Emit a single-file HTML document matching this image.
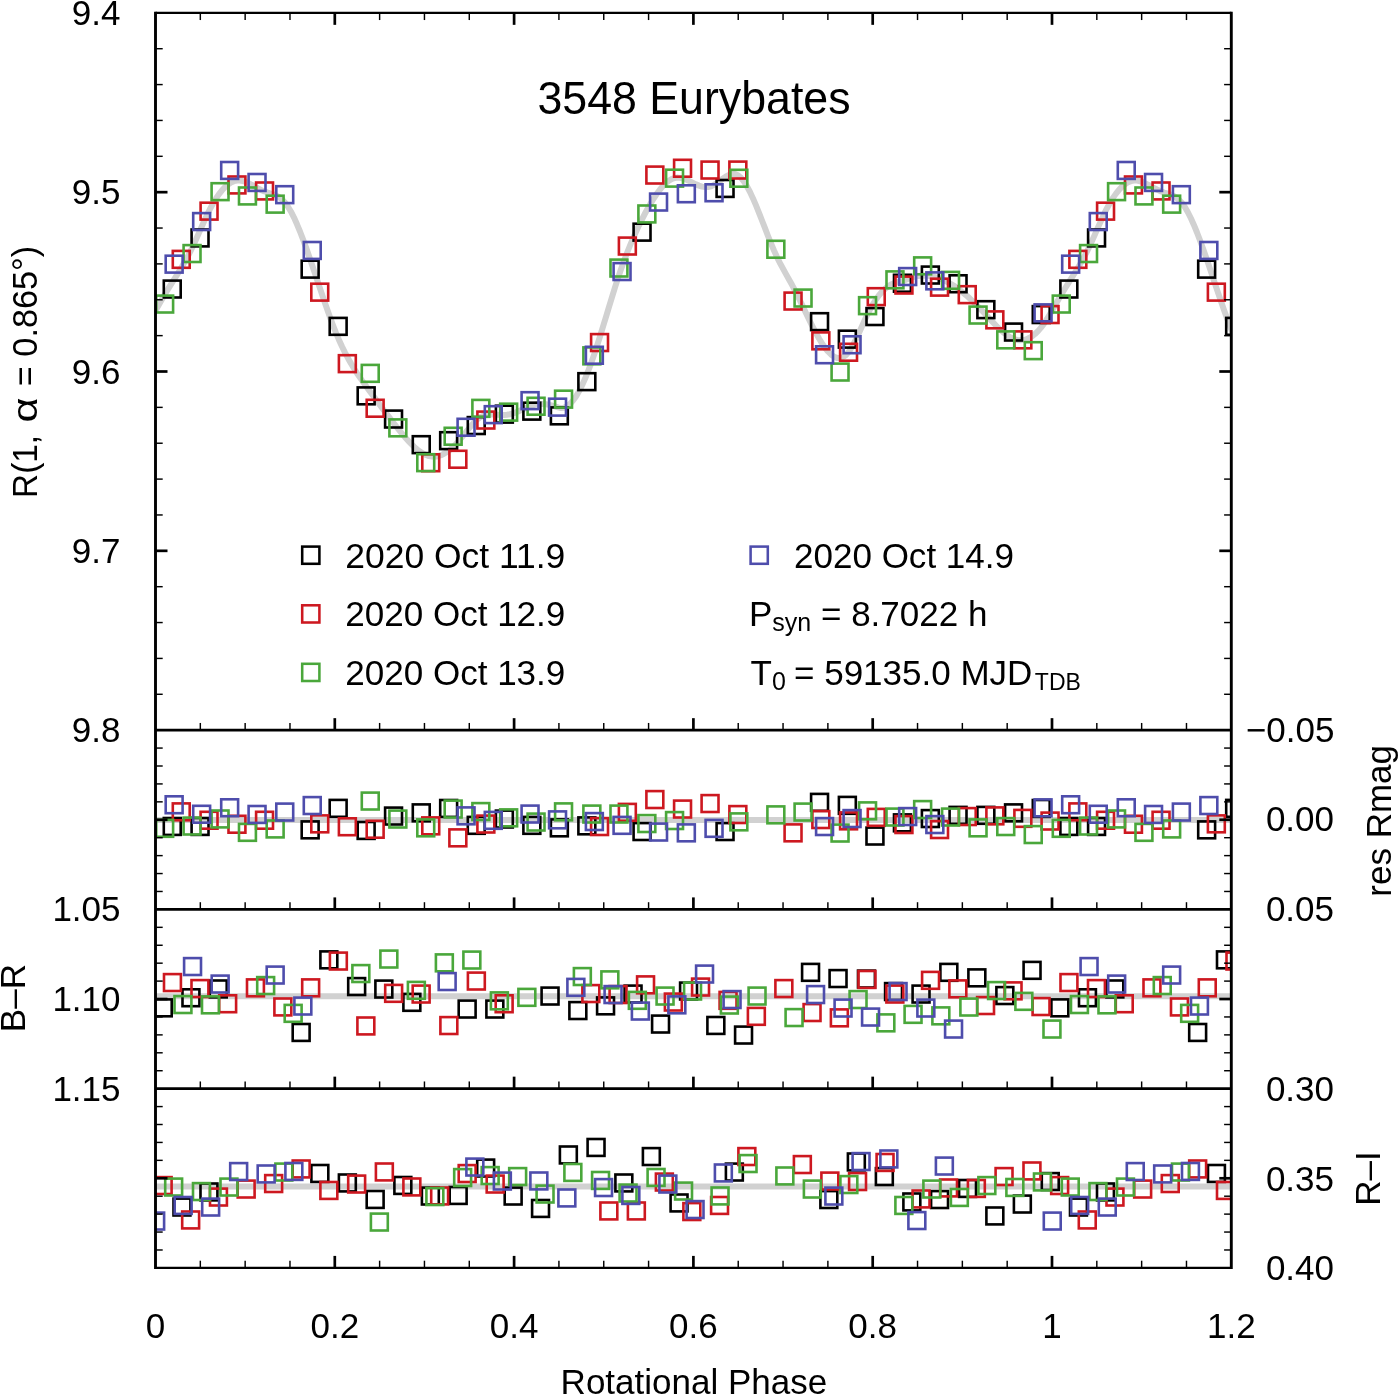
<!DOCTYPE html>
<html lang="en"><head><meta charset="utf-8"><title>3548 Eurybates</title>
<style>html,body{margin:0;padding:0;background:#fff}svg{display:block}text{font-family:"Liberation Sans",sans-serif;fill:#000}</style>
</head><body>
<svg width="1400" height="1394" viewBox="0 0 1400 1394">
<rect width="1400" height="1394" fill="#fff"/>
<defs><clipPath id="cp"><rect x="155.5" y="12.85" width="1075.80" height="1255.05"/></clipPath></defs>
<g clip-path="url(#cp)">
<g fill="none" stroke="#d1d1d1" stroke-width="6">
<path d="M150.0 319.7 L153.0 314.8 L156.0 309.7 L159.0 304.4 L162.0 299.2 L165.0 294.1 L168.0 289.1 L171.0 284.3 L174.0 279.6 L177.0 274.8 L180.0 269.9 L183.0 264.9 L186.0 259.7 L189.0 254.1 L192.0 248.1 L195.0 241.7 L198.0 235.1 L201.0 228.3 L204.0 221.5 L207.0 215.1 L210.0 209.0 L213.0 203.5 L216.0 198.5 L219.0 194.1 L222.0 190.3 L225.0 187.1 L228.0 184.5 L231.0 182.5 L234.0 181.2 L237.0 180.5 L240.0 180.5 L243.0 181.1 L246.0 182.0 L249.0 183.4 L252.0 184.9 L255.0 186.6 L258.0 188.3 L261.0 189.9 L264.0 191.2 L267.0 192.3 L270.0 193.3 L273.0 194.2 L276.0 195.4 L279.0 197.1 L282.0 199.4 L285.0 202.5 L288.0 206.7 L291.0 211.7 L294.0 217.6 L297.0 224.3 L300.0 231.5 L303.0 239.3 L306.0 247.4 L309.0 256.0 L312.0 264.7 L315.0 273.6 L318.0 282.5 L321.0 291.4 L324.0 300.2 L327.0 308.8 L330.0 317.2 L333.0 325.2 L336.0 332.8 L339.0 339.9 L342.0 346.5 L345.0 352.6 L348.0 358.2 L351.0 363.5 L354.0 368.5 L357.0 373.2 L360.0 377.6 L363.0 381.9 L366.0 386.1 L369.0 390.2 L372.0 394.2 L375.0 398.3 L378.0 402.4 L381.0 406.4 L384.0 410.5 L387.0 414.4 L390.0 418.4 L393.0 422.3 L396.0 426.1 L399.0 429.9 L402.0 433.6 L405.0 437.2 L408.0 440.6 L411.0 443.7 L414.0 446.7 L417.0 449.3 L420.0 451.6 L423.0 453.5 L426.0 455.0 L429.0 456.1 L432.0 456.6 L435.0 456.7 L438.0 456.2 L441.0 455.2 L444.0 453.8 L447.0 452.0 L450.0 449.8 L453.0 447.1 L456.0 444.1 L459.0 440.7 L462.0 437.1 L465.0 433.3 L468.0 429.6 L471.0 425.9 L474.0 422.6 L477.0 419.7 L480.0 417.4 L483.0 415.8 L486.0 414.8 L489.0 414.4 L492.0 414.3 L495.0 414.5 L498.0 414.8 L501.0 415.0 L504.0 415.1 L507.0 414.8 L510.0 414.2 L513.0 413.3 L516.0 412.3 L519.0 411.1 L522.0 409.8 L525.0 408.4 L528.0 407.1 L531.0 405.9 L534.0 404.9 L537.0 404.2 L540.0 404.0 L543.0 404.0 L546.0 404.3 L549.0 404.8 L552.0 405.5 L555.0 406.4 L558.0 407.4 L561.0 408.1 L564.0 407.7 L567.0 406.3 L570.0 403.9 L573.0 400.6 L576.0 396.4 L579.0 391.3 L582.0 385.4 L585.0 378.8 L588.0 371.5 L591.0 363.6 L594.0 355.0 L597.0 345.9 L600.0 336.5 L603.0 326.7 L606.0 316.8 L609.0 306.9 L612.0 297.1 L615.0 287.4 L618.0 278.1 L621.0 269.3 L624.0 260.9 L627.0 253.0 L630.0 245.5 L633.0 238.4 L636.0 231.7 L639.0 225.3 L642.0 219.3 L645.0 213.5 L648.0 208.0 L651.0 202.8 L654.0 198.0 L657.0 193.5 L660.0 189.5 L663.0 185.9 L666.0 182.9 L669.0 180.6 L672.0 178.9 L675.0 177.9 L678.0 177.6 L681.0 178.0 L684.0 178.8 L687.0 180.0 L690.0 181.4 L693.0 182.9 L696.0 184.4 L699.0 185.6 L702.0 186.6 L705.0 187.1 L708.0 187.1 L711.0 186.4 L714.0 184.9 L717.0 183.0 L720.0 180.8 L723.0 178.5 L726.0 176.5 L729.0 175.0 L732.0 174.1 L735.0 174.1 L738.0 175.3 L741.0 177.8 L744.0 181.6 L747.0 186.3 L750.0 192.0 L753.0 198.4 L756.0 205.4 L759.0 212.8 L762.0 220.5 L765.0 228.2 L768.0 236.0 L771.0 243.4 L774.0 250.5 L777.0 257.1 L780.0 263.1 L783.0 268.7 L786.0 274.1 L789.0 279.4 L792.0 284.8 L795.0 290.5 L798.0 296.5 L801.0 302.6 L804.0 308.9 L807.0 315.2 L810.0 321.4 L813.0 327.4 L816.0 333.1 L819.0 338.5 L822.0 343.4 L825.0 347.8 L828.0 351.5 L831.0 354.5 L834.0 356.7 L837.0 357.9 L840.0 358.1 L843.0 357.2 L846.0 355.0 L849.0 351.5 L852.0 346.9 L855.0 341.2 L858.0 335.0 L861.0 328.4 L864.0 321.7 L867.0 315.3 L870.0 309.4 L873.0 304.1 L876.0 299.4 L879.0 295.3 L882.0 291.8 L885.0 288.8 L888.0 286.4 L891.0 284.5 L894.0 283.1 L897.0 282.2 L900.0 281.6 L903.0 280.9 L906.0 279.7 L909.0 278.5 L912.0 277.4 L915.0 276.6 L918.0 276.0 L921.0 275.7 L924.0 275.6 L927.0 275.7 L930.0 276.0 L933.0 276.5 L936.0 277.3 L939.0 278.2 L942.0 279.4 L945.0 280.7 L948.0 282.2 L951.0 284.0 L954.0 285.8 L957.0 287.9 L960.0 290.2 L963.0 292.6 L966.0 295.1 L969.0 297.8 L972.0 300.6 L975.0 303.5 L978.0 306.5 L981.0 309.6 L984.0 312.7 L987.0 316.0 L990.0 319.2 L993.0 322.4 L996.0 325.5 L999.0 328.5 L1002.0 331.2 L1005.0 333.7 L1008.0 335.9 L1011.0 337.7 L1014.0 339.0 L1017.0 339.9 L1020.0 340.2 L1023.0 340.1 L1026.0 339.4 L1029.0 338.1 L1032.0 336.4 L1035.0 334.0 L1038.0 331.1 L1041.0 327.6 L1044.0 323.6 L1047.0 319.0 L1050.0 314.1 L1053.0 309.0 L1056.0 303.7 L1059.0 298.5 L1062.0 293.4 L1065.0 288.5 L1068.0 283.7 L1071.0 278.9 L1074.0 274.2 L1077.0 269.3 L1080.0 264.2 L1083.0 258.9 L1086.0 253.3 L1089.0 247.3 L1092.0 240.9 L1095.0 234.2 L1098.0 227.4 L1101.0 220.7 L1104.0 214.2 L1107.0 208.2 L1110.0 202.8 L1113.0 197.9 L1116.0 193.6 L1119.0 189.8 L1122.0 186.7 L1125.0 184.2 L1128.0 182.3 L1131.0 181.1 L1134.0 180.5 L1137.0 180.6 L1140.0 181.2 L1143.0 182.2 L1146.0 183.6 L1149.0 185.1 L1152.0 186.8 L1155.0 188.5 L1158.0 190.1 L1161.0 191.4 L1164.0 192.5 L1167.0 193.4 L1170.0 194.4 L1173.0 195.6 L1176.0 197.4 L1179.0 199.8 L1182.0 203.0 L1185.0 207.3 L1188.0 212.5 L1191.0 218.5 L1194.0 225.2 L1197.0 232.5 L1200.0 240.3 L1203.0 248.6 L1206.0 257.1 L1209.0 265.9 L1212.0 274.7 L1215.0 283.7 L1218.0 292.6 L1221.0 301.3 L1224.0 309.9 L1227.0 318.2 L1230.0 326.2 L1233.0 333.8 L1236.0 340.8 L1239.0 347.3" stroke-linejoin="round"/>
<line x1="150" x2="1240" y1="820.0" y2="820.0"/>
<line x1="150" x2="1240" y1="996.3" y2="996.3"/>
<line x1="150" x2="1240" y1="1186.5" y2="1186.5"/>
</g>
<g fill="none" stroke-width="2.6">
<g stroke="#000000">
<rect x="163.8" y="280.6" width="16.9" height="16.9"/>
<rect x="191.6" y="229.5" width="16.9" height="16.9"/>
<rect x="301.7" y="260.7" width="16.9" height="16.9"/>
<rect x="329.7" y="317.9" width="16.9" height="16.9"/>
<rect x="357.7" y="387.4" width="16.9" height="16.9"/>
<rect x="385.1" y="410.6" width="16.9" height="16.9"/>
<rect x="412.8" y="436.2" width="16.9" height="16.9"/>
<rect x="440.2" y="432.2" width="16.9" height="16.9"/>
<rect x="467.8" y="417.1" width="16.9" height="16.9"/>
<rect x="495.9" y="405.7" width="16.9" height="16.9"/>
<rect x="523.4" y="402.7" width="16.9" height="16.9"/>
<rect x="550.9" y="407.4" width="16.9" height="16.9"/>
<rect x="578.4" y="373.2" width="16.9" height="16.9"/>
<rect x="633.6" y="223.7" width="16.9" height="16.9"/>
<rect x="716.6" y="180.0" width="16.9" height="16.9"/>
<rect x="811.1" y="313.2" width="16.9" height="16.9"/>
<rect x="838.9" y="330.7" width="16.9" height="16.9"/>
<rect x="866.5" y="308.1" width="16.9" height="16.9"/>
<rect x="894.0" y="274.8" width="16.9" height="16.9"/>
<rect x="921.9" y="266.6" width="16.9" height="16.9"/>
<rect x="949.6" y="275.3" width="16.9" height="16.9"/>
<rect x="977.4" y="301.2" width="16.9" height="16.9"/>
<rect x="1005.1" y="323.6" width="16.9" height="16.9"/>
<rect x="1032.8" y="306.1" width="16.9" height="16.9"/>
<rect x="1060.4" y="280.6" width="16.9" height="16.9"/>
<rect x="1088.1" y="229.5" width="16.9" height="16.9"/>
<rect x="1198.2" y="260.7" width="16.9" height="16.9"/>
<rect x="1226.2" y="317.9" width="16.9" height="16.9"/>
</g>
<g stroke="#cd1820">
<rect x="172.8" y="250.9" width="16.9" height="16.9"/>
<rect x="200.6" y="202.7" width="16.9" height="16.9"/>
<rect x="228.5" y="176.5" width="16.9" height="16.9"/>
<rect x="256.1" y="182.5" width="16.9" height="16.9"/>
<rect x="311.3" y="283.7" width="16.9" height="16.9"/>
<rect x="338.9" y="355.2" width="16.9" height="16.9"/>
<rect x="366.7" y="399.8" width="16.9" height="16.9"/>
<rect x="422.3" y="454.3" width="16.9" height="16.9"/>
<rect x="449.4" y="450.8" width="16.9" height="16.9"/>
<rect x="477.4" y="411.6" width="16.9" height="16.9"/>
<rect x="591.1" y="334.1" width="16.9" height="16.9"/>
<rect x="618.9" y="237.6" width="16.9" height="16.9"/>
<rect x="646.4" y="166.6" width="16.9" height="16.9"/>
<rect x="674.1" y="159.8" width="16.9" height="16.9"/>
<rect x="701.6" y="161.6" width="16.9" height="16.9"/>
<rect x="729.4" y="161.6" width="16.9" height="16.9"/>
<rect x="784.6" y="292.6" width="16.9" height="16.9"/>
<rect x="812.4" y="332.4" width="16.9" height="16.9"/>
<rect x="840.1" y="343.8" width="16.9" height="16.9"/>
<rect x="867.8" y="288.2" width="16.9" height="16.9"/>
<rect x="895.5" y="276.6" width="16.9" height="16.9"/>
<rect x="931.1" y="278.7" width="16.9" height="16.9"/>
<rect x="958.8" y="286.2" width="16.9" height="16.9"/>
<rect x="986.4" y="311.4" width="16.9" height="16.9"/>
<rect x="1014.4" y="331.4" width="16.9" height="16.9"/>
<rect x="1041.6" y="306.1" width="16.9" height="16.9"/>
<rect x="1069.4" y="250.9" width="16.9" height="16.9"/>
<rect x="1097.1" y="202.7" width="16.9" height="16.9"/>
<rect x="1125.0" y="176.5" width="16.9" height="16.9"/>
<rect x="1152.6" y="182.5" width="16.9" height="16.9"/>
<rect x="1207.9" y="283.7" width="16.9" height="16.9"/>
</g>
<g stroke="#4aa73b">
<rect x="156.2" y="295.6" width="16.9" height="16.9"/>
<rect x="183.6" y="245.1" width="16.9" height="16.9"/>
<rect x="211.6" y="183.2" width="16.9" height="16.9"/>
<rect x="239.0" y="187.5" width="16.9" height="16.9"/>
<rect x="266.7" y="195.7" width="16.9" height="16.9"/>
<rect x="361.8" y="364.9" width="16.9" height="16.9"/>
<rect x="389.4" y="419.4" width="16.9" height="16.9"/>
<rect x="417.3" y="454.2" width="16.9" height="16.9"/>
<rect x="444.7" y="427.8" width="16.9" height="16.9"/>
<rect x="472.4" y="399.9" width="16.9" height="16.9"/>
<rect x="500.2" y="403.7" width="16.9" height="16.9"/>
<rect x="527.6" y="397.8" width="16.9" height="16.9"/>
<rect x="555.1" y="390.7" width="16.9" height="16.9"/>
<rect x="583.4" y="347.4" width="16.9" height="16.9"/>
<rect x="610.5" y="259.6" width="16.9" height="16.9"/>
<rect x="638.4" y="205.5" width="16.9" height="16.9"/>
<rect x="666.1" y="169.7" width="16.9" height="16.9"/>
<rect x="730.4" y="169.8" width="16.9" height="16.9"/>
<rect x="767.4" y="240.8" width="16.9" height="16.9"/>
<rect x="794.6" y="289.6" width="16.9" height="16.9"/>
<rect x="831.6" y="363.6" width="16.9" height="16.9"/>
<rect x="859.1" y="297.2" width="16.9" height="16.9"/>
<rect x="886.5" y="271.4" width="16.9" height="16.9"/>
<rect x="914.2" y="257.4" width="16.9" height="16.9"/>
<rect x="942.1" y="271.9" width="16.9" height="16.9"/>
<rect x="969.6" y="306.6" width="16.9" height="16.9"/>
<rect x="997.3" y="331.4" width="16.9" height="16.9"/>
<rect x="1024.8" y="342.2" width="16.9" height="16.9"/>
<rect x="1052.8" y="295.6" width="16.9" height="16.9"/>
<rect x="1080.1" y="245.1" width="16.9" height="16.9"/>
<rect x="1108.1" y="183.2" width="16.9" height="16.9"/>
<rect x="1135.5" y="187.5" width="16.9" height="16.9"/>
<rect x="1163.2" y="195.7" width="16.9" height="16.9"/>
</g>
<g stroke="#4e4dac">
<rect x="165.7" y="255.7" width="16.9" height="16.9"/>
<rect x="193.2" y="213.1" width="16.9" height="16.9"/>
<rect x="221.2" y="162.0" width="16.9" height="16.9"/>
<rect x="248.6" y="174.0" width="16.9" height="16.9"/>
<rect x="276.3" y="186.2" width="16.9" height="16.9"/>
<rect x="303.8" y="242.0" width="16.9" height="16.9"/>
<rect x="457.6" y="418.8" width="16.9" height="16.9"/>
<rect x="484.8" y="406.2" width="16.9" height="16.9"/>
<rect x="521.6" y="392.2" width="16.9" height="16.9"/>
<rect x="549.1" y="398.7" width="16.9" height="16.9"/>
<rect x="585.9" y="346.8" width="16.9" height="16.9"/>
<rect x="613.6" y="263.1" width="16.9" height="16.9"/>
<rect x="650.1" y="193.6" width="16.9" height="16.9"/>
<rect x="677.9" y="185.3" width="16.9" height="16.9"/>
<rect x="705.6" y="184.3" width="16.9" height="16.9"/>
<rect x="816.1" y="346.3" width="16.9" height="16.9"/>
<rect x="843.6" y="336.3" width="16.9" height="16.9"/>
<rect x="899.2" y="268.1" width="16.9" height="16.9"/>
<rect x="926.4" y="272.4" width="16.9" height="16.9"/>
<rect x="1034.6" y="304.4" width="16.9" height="16.9"/>
<rect x="1062.2" y="255.7" width="16.9" height="16.9"/>
<rect x="1089.8" y="213.1" width="16.9" height="16.9"/>
<rect x="1117.8" y="162.0" width="16.9" height="16.9"/>
<rect x="1145.1" y="174.0" width="16.9" height="16.9"/>
<rect x="1172.9" y="186.2" width="16.9" height="16.9"/>
<rect x="1200.4" y="242.0" width="16.9" height="16.9"/>
</g>
<g stroke="#000000">
<rect x="163.8" y="818.0" width="16.9" height="16.9"/>
<rect x="191.6" y="818.0" width="16.9" height="16.9"/>
<rect x="301.7" y="821.4" width="16.9" height="16.9"/>
<rect x="329.7" y="799.9" width="16.9" height="16.9"/>
<rect x="357.7" y="822.0" width="16.9" height="16.9"/>
<rect x="385.1" y="807.6" width="16.9" height="16.9"/>
<rect x="412.8" y="804.4" width="16.9" height="16.9"/>
<rect x="440.2" y="800.0" width="16.9" height="16.9"/>
<rect x="467.8" y="816.9" width="16.9" height="16.9"/>
<rect x="495.9" y="810.6" width="16.9" height="16.9"/>
<rect x="523.4" y="816.9" width="16.9" height="16.9"/>
<rect x="550.9" y="819.4" width="16.9" height="16.9"/>
<rect x="578.4" y="817.4" width="16.9" height="16.9"/>
<rect x="633.6" y="823.1" width="16.9" height="16.9"/>
<rect x="716.6" y="823.1" width="16.9" height="16.9"/>
<rect x="811.1" y="793.9" width="16.9" height="16.9"/>
<rect x="838.9" y="796.9" width="16.9" height="16.9"/>
<rect x="866.5" y="827.6" width="16.9" height="16.9"/>
<rect x="894.0" y="814.4" width="16.9" height="16.9"/>
<rect x="921.9" y="810.1" width="16.9" height="16.9"/>
<rect x="949.6" y="806.9" width="16.9" height="16.9"/>
<rect x="977.4" y="806.9" width="16.9" height="16.9"/>
<rect x="1005.1" y="804.4" width="16.9" height="16.9"/>
<rect x="1032.8" y="800.0" width="16.9" height="16.9"/>
<rect x="1060.4" y="818.0" width="16.9" height="16.9"/>
<rect x="1088.1" y="818.0" width="16.9" height="16.9"/>
<rect x="1198.2" y="821.4" width="16.9" height="16.9"/>
<rect x="1226.2" y="799.9" width="16.9" height="16.9"/>
</g>
<g stroke="#cd1820">
<rect x="172.8" y="803.4" width="16.9" height="16.9"/>
<rect x="200.6" y="811.8" width="16.9" height="16.9"/>
<rect x="228.5" y="815.8" width="16.9" height="16.9"/>
<rect x="256.1" y="811.8" width="16.9" height="16.9"/>
<rect x="311.3" y="815.4" width="16.9" height="16.9"/>
<rect x="338.9" y="818.3" width="16.9" height="16.9"/>
<rect x="366.7" y="820.8" width="16.9" height="16.9"/>
<rect x="422.3" y="817.4" width="16.9" height="16.9"/>
<rect x="449.4" y="829.4" width="16.9" height="16.9"/>
<rect x="477.4" y="815.6" width="16.9" height="16.9"/>
<rect x="591.1" y="818.1" width="16.9" height="16.9"/>
<rect x="618.9" y="803.9" width="16.9" height="16.9"/>
<rect x="646.4" y="791.1" width="16.9" height="16.9"/>
<rect x="674.1" y="800.6" width="16.9" height="16.9"/>
<rect x="701.6" y="795.1" width="16.9" height="16.9"/>
<rect x="729.4" y="806.1" width="16.9" height="16.9"/>
<rect x="784.6" y="824.4" width="16.9" height="16.9"/>
<rect x="812.4" y="811.1" width="16.9" height="16.9"/>
<rect x="840.1" y="812.4" width="16.9" height="16.9"/>
<rect x="867.8" y="808.9" width="16.9" height="16.9"/>
<rect x="895.5" y="816.1" width="16.9" height="16.9"/>
<rect x="931.1" y="821.1" width="16.9" height="16.9"/>
<rect x="958.8" y="808.1" width="16.9" height="16.9"/>
<rect x="986.4" y="807.4" width="16.9" height="16.9"/>
<rect x="1014.4" y="809.9" width="16.9" height="16.9"/>
<rect x="1041.6" y="812.6" width="16.9" height="16.9"/>
<rect x="1069.4" y="803.4" width="16.9" height="16.9"/>
<rect x="1097.1" y="811.8" width="16.9" height="16.9"/>
<rect x="1125.0" y="815.8" width="16.9" height="16.9"/>
<rect x="1152.6" y="811.8" width="16.9" height="16.9"/>
<rect x="1207.9" y="815.4" width="16.9" height="16.9"/>
</g>
<g stroke="#4aa73b">
<rect x="156.2" y="819.9" width="16.9" height="16.9"/>
<rect x="183.6" y="817.6" width="16.9" height="16.9"/>
<rect x="211.6" y="810.5" width="16.9" height="16.9"/>
<rect x="239.0" y="823.9" width="16.9" height="16.9"/>
<rect x="266.7" y="820.5" width="16.9" height="16.9"/>
<rect x="361.8" y="792.6" width="16.9" height="16.9"/>
<rect x="389.4" y="810.6" width="16.9" height="16.9"/>
<rect x="417.3" y="819.4" width="16.9" height="16.9"/>
<rect x="444.7" y="800.6" width="16.9" height="16.9"/>
<rect x="472.4" y="803.1" width="16.9" height="16.9"/>
<rect x="500.2" y="809.4" width="16.9" height="16.9"/>
<rect x="527.6" y="813.6" width="16.9" height="16.9"/>
<rect x="555.1" y="803.4" width="16.9" height="16.9"/>
<rect x="583.4" y="805.6" width="16.9" height="16.9"/>
<rect x="610.5" y="805.6" width="16.9" height="16.9"/>
<rect x="638.4" y="815.1" width="16.9" height="16.9"/>
<rect x="666.1" y="812.1" width="16.9" height="16.9"/>
<rect x="730.4" y="813.4" width="16.9" height="16.9"/>
<rect x="767.4" y="806.4" width="16.9" height="16.9"/>
<rect x="794.6" y="803.6" width="16.9" height="16.9"/>
<rect x="831.6" y="824.6" width="16.9" height="16.9"/>
<rect x="859.1" y="802.4" width="16.9" height="16.9"/>
<rect x="886.5" y="808.6" width="16.9" height="16.9"/>
<rect x="914.2" y="801.1" width="16.9" height="16.9"/>
<rect x="942.1" y="808.6" width="16.9" height="16.9"/>
<rect x="969.6" y="819.4" width="16.9" height="16.9"/>
<rect x="997.3" y="818.1" width="16.9" height="16.9"/>
<rect x="1024.8" y="826.1" width="16.9" height="16.9"/>
<rect x="1052.8" y="819.9" width="16.9" height="16.9"/>
<rect x="1080.1" y="817.6" width="16.9" height="16.9"/>
<rect x="1108.1" y="810.5" width="16.9" height="16.9"/>
<rect x="1135.5" y="823.9" width="16.9" height="16.9"/>
<rect x="1163.2" y="820.5" width="16.9" height="16.9"/>
</g>
<g stroke="#4e4dac">
<rect x="165.7" y="796.3" width="16.9" height="16.9"/>
<rect x="193.2" y="805.8" width="16.9" height="16.9"/>
<rect x="221.2" y="799.3" width="16.9" height="16.9"/>
<rect x="248.6" y="806.0" width="16.9" height="16.9"/>
<rect x="276.3" y="803.6" width="16.9" height="16.9"/>
<rect x="303.8" y="797.1" width="16.9" height="16.9"/>
<rect x="457.6" y="807.4" width="16.9" height="16.9"/>
<rect x="484.8" y="811.9" width="16.9" height="16.9"/>
<rect x="521.6" y="805.6" width="16.9" height="16.9"/>
<rect x="549.1" y="811.4" width="16.9" height="16.9"/>
<rect x="585.9" y="813.1" width="16.9" height="16.9"/>
<rect x="613.6" y="816.9" width="16.9" height="16.9"/>
<rect x="650.1" y="823.6" width="16.9" height="16.9"/>
<rect x="677.9" y="824.4" width="16.9" height="16.9"/>
<rect x="705.6" y="819.9" width="16.9" height="16.9"/>
<rect x="816.1" y="818.1" width="16.9" height="16.9"/>
<rect x="843.6" y="810.1" width="16.9" height="16.9"/>
<rect x="899.2" y="808.1" width="16.9" height="16.9"/>
<rect x="926.4" y="816.1" width="16.9" height="16.9"/>
<rect x="1034.6" y="799.4" width="16.9" height="16.9"/>
<rect x="1062.2" y="796.3" width="16.9" height="16.9"/>
<rect x="1089.8" y="805.8" width="16.9" height="16.9"/>
<rect x="1117.8" y="799.3" width="16.9" height="16.9"/>
<rect x="1145.1" y="806.0" width="16.9" height="16.9"/>
<rect x="1172.9" y="803.6" width="16.9" height="16.9"/>
<rect x="1200.4" y="797.1" width="16.9" height="16.9"/>
</g>
<g stroke="#000000">
<rect x="154.8" y="999.4" width="16.9" height="16.9"/>
<rect x="182.5" y="989.3" width="16.9" height="16.9"/>
<rect x="209.8" y="980.5" width="16.9" height="16.9"/>
<rect x="292.7" y="1024.0" width="16.9" height="16.9"/>
<rect x="320.4" y="951.4" width="16.9" height="16.9"/>
<rect x="348.2" y="978.1" width="16.9" height="16.9"/>
<rect x="375.4" y="980.6" width="16.9" height="16.9"/>
<rect x="403.4" y="993.9" width="16.9" height="16.9"/>
<rect x="458.7" y="1000.6" width="16.9" height="16.9"/>
<rect x="486.4" y="1000.6" width="16.9" height="16.9"/>
<rect x="541.6" y="987.6" width="16.9" height="16.9"/>
<rect x="569.4" y="1002.1" width="16.9" height="16.9"/>
<rect x="597.1" y="997.4" width="16.9" height="16.9"/>
<rect x="624.6" y="985.6" width="16.9" height="16.9"/>
<rect x="652.1" y="1015.6" width="16.9" height="16.9"/>
<rect x="680.1" y="982.6" width="16.9" height="16.9"/>
<rect x="707.4" y="1017.0" width="16.9" height="16.9"/>
<rect x="735.1" y="1026.6" width="16.9" height="16.9"/>
<rect x="802.1" y="963.9" width="16.9" height="16.9"/>
<rect x="829.6" y="970.1" width="16.9" height="16.9"/>
<rect x="858.0" y="970.6" width="16.9" height="16.9"/>
<rect x="885.1" y="983.1" width="16.9" height="16.9"/>
<rect x="912.6" y="985.6" width="16.9" height="16.9"/>
<rect x="940.4" y="963.9" width="16.9" height="16.9"/>
<rect x="968.4" y="969.4" width="16.9" height="16.9"/>
<rect x="996.4" y="987.1" width="16.9" height="16.9"/>
<rect x="1023.6" y="961.9" width="16.9" height="16.9"/>
<rect x="1051.4" y="999.4" width="16.9" height="16.9"/>
<rect x="1079.0" y="989.3" width="16.9" height="16.9"/>
<rect x="1106.4" y="980.5" width="16.9" height="16.9"/>
<rect x="1189.2" y="1024.0" width="16.9" height="16.9"/>
<rect x="1217.0" y="951.4" width="16.9" height="16.9"/>
</g>
<g stroke="#cd1820">
<rect x="164.0" y="974.1" width="16.9" height="16.9"/>
<rect x="191.5" y="980.1" width="16.9" height="16.9"/>
<rect x="219.2" y="995.3" width="16.9" height="16.9"/>
<rect x="247.0" y="979.4" width="16.9" height="16.9"/>
<rect x="274.4" y="998.5" width="16.9" height="16.9"/>
<rect x="302.2" y="979.4" width="16.9" height="16.9"/>
<rect x="329.9" y="952.6" width="16.9" height="16.9"/>
<rect x="357.4" y="1017.5" width="16.9" height="16.9"/>
<rect x="385.2" y="984.9" width="16.9" height="16.9"/>
<rect x="412.7" y="985.6" width="16.9" height="16.9"/>
<rect x="440.4" y="1017.1" width="16.9" height="16.9"/>
<rect x="467.9" y="972.6" width="16.9" height="16.9"/>
<rect x="495.7" y="995.3" width="16.9" height="16.9"/>
<rect x="582.4" y="985.1" width="16.9" height="16.9"/>
<rect x="609.6" y="986.1" width="16.9" height="16.9"/>
<rect x="637.1" y="976.4" width="16.9" height="16.9"/>
<rect x="664.9" y="993.6" width="16.9" height="16.9"/>
<rect x="692.1" y="978.6" width="16.9" height="16.9"/>
<rect x="719.6" y="991.9" width="16.9" height="16.9"/>
<rect x="747.9" y="1007.9" width="16.9" height="16.9"/>
<rect x="775.4" y="980.1" width="16.9" height="16.9"/>
<rect x="803.6" y="1004.1" width="16.9" height="16.9"/>
<rect x="830.9" y="1009.4" width="16.9" height="16.9"/>
<rect x="858.5" y="971.0" width="16.9" height="16.9"/>
<rect x="886.4" y="985.6" width="16.9" height="16.9"/>
<rect x="922.1" y="971.9" width="16.9" height="16.9"/>
<rect x="949.4" y="980.4" width="16.9" height="16.9"/>
<rect x="977.1" y="997.1" width="16.9" height="16.9"/>
<rect x="1004.6" y="982.4" width="16.9" height="16.9"/>
<rect x="1032.6" y="998.1" width="16.9" height="16.9"/>
<rect x="1060.5" y="974.1" width="16.9" height="16.9"/>
<rect x="1088.0" y="980.1" width="16.9" height="16.9"/>
<rect x="1115.8" y="995.3" width="16.9" height="16.9"/>
<rect x="1143.5" y="979.4" width="16.9" height="16.9"/>
<rect x="1171.0" y="998.5" width="16.9" height="16.9"/>
<rect x="1198.8" y="979.4" width="16.9" height="16.9"/>
<rect x="1226.5" y="952.6" width="16.9" height="16.9"/>
</g>
<g stroke="#4aa73b">
<rect x="174.5" y="996.1" width="16.9" height="16.9"/>
<rect x="202.0" y="996.4" width="16.9" height="16.9"/>
<rect x="257.2" y="977.1" width="16.9" height="16.9"/>
<rect x="284.7" y="1004.9" width="16.9" height="16.9"/>
<rect x="352.4" y="965.1" width="16.9" height="16.9"/>
<rect x="380.4" y="950.6" width="16.9" height="16.9"/>
<rect x="407.9" y="981.9" width="16.9" height="16.9"/>
<rect x="435.9" y="954.4" width="16.9" height="16.9"/>
<rect x="463.4" y="951.6" width="16.9" height="16.9"/>
<rect x="490.9" y="992.4" width="16.9" height="16.9"/>
<rect x="518.4" y="988.9" width="16.9" height="16.9"/>
<rect x="573.9" y="968.1" width="16.9" height="16.9"/>
<rect x="601.4" y="971.4" width="16.9" height="16.9"/>
<rect x="628.9" y="991.9" width="16.9" height="16.9"/>
<rect x="656.6" y="987.6" width="16.9" height="16.9"/>
<rect x="684.1" y="982.6" width="16.9" height="16.9"/>
<rect x="720.9" y="996.6" width="16.9" height="16.9"/>
<rect x="748.6" y="987.6" width="16.9" height="16.9"/>
<rect x="785.6" y="1009.1" width="16.9" height="16.9"/>
<rect x="849.6" y="991.1" width="16.9" height="16.9"/>
<rect x="877.4" y="1014.4" width="16.9" height="16.9"/>
<rect x="904.6" y="1005.9" width="16.9" height="16.9"/>
<rect x="932.4" y="1007.4" width="16.9" height="16.9"/>
<rect x="960.4" y="998.6" width="16.9" height="16.9"/>
<rect x="988.1" y="982.1" width="16.9" height="16.9"/>
<rect x="1015.4" y="992.9" width="16.9" height="16.9"/>
<rect x="1043.5" y="1020.6" width="16.9" height="16.9"/>
<rect x="1071.0" y="996.1" width="16.9" height="16.9"/>
<rect x="1098.5" y="996.4" width="16.9" height="16.9"/>
<rect x="1153.8" y="977.1" width="16.9" height="16.9"/>
<rect x="1181.2" y="1004.9" width="16.9" height="16.9"/>
</g>
<g stroke="#4e4dac">
<rect x="184.1" y="958.1" width="16.9" height="16.9"/>
<rect x="211.7" y="975.6" width="16.9" height="16.9"/>
<rect x="266.7" y="966.6" width="16.9" height="16.9"/>
<rect x="294.4" y="997.6" width="16.9" height="16.9"/>
<rect x="438.7" y="973.1" width="16.9" height="16.9"/>
<rect x="567.4" y="978.9" width="16.9" height="16.9"/>
<rect x="604.6" y="986.1" width="16.9" height="16.9"/>
<rect x="631.9" y="1002.6" width="16.9" height="16.9"/>
<rect x="668.4" y="996.4" width="16.9" height="16.9"/>
<rect x="696.1" y="965.6" width="16.9" height="16.9"/>
<rect x="723.6" y="991.1" width="16.9" height="16.9"/>
<rect x="807.1" y="986.1" width="16.9" height="16.9"/>
<rect x="834.6" y="999.6" width="16.9" height="16.9"/>
<rect x="862.1" y="1008.6" width="16.9" height="16.9"/>
<rect x="889.6" y="983.1" width="16.9" height="16.9"/>
<rect x="917.4" y="999.6" width="16.9" height="16.9"/>
<rect x="945.1" y="1020.6" width="16.9" height="16.9"/>
<rect x="1080.6" y="958.1" width="16.9" height="16.9"/>
<rect x="1108.2" y="975.6" width="16.9" height="16.9"/>
<rect x="1163.2" y="966.6" width="16.9" height="16.9"/>
<rect x="1191.0" y="997.6" width="16.9" height="16.9"/>
</g>
<g stroke="#000000">
<rect x="173.5" y="1198.6" width="16.9" height="16.9"/>
<rect x="200.5" y="1183.5" width="16.9" height="16.9"/>
<rect x="311.4" y="1165.0" width="16.9" height="16.9"/>
<rect x="338.9" y="1174.5" width="16.9" height="16.9"/>
<rect x="366.7" y="1191.0" width="16.9" height="16.9"/>
<rect x="394.4" y="1177.0" width="16.9" height="16.9"/>
<rect x="421.9" y="1187.6" width="16.9" height="16.9"/>
<rect x="449.7" y="1187.0" width="16.9" height="16.9"/>
<rect x="477.2" y="1159.6" width="16.9" height="16.9"/>
<rect x="504.7" y="1187.6" width="16.9" height="16.9"/>
<rect x="532.1" y="1200.0" width="16.9" height="16.9"/>
<rect x="559.9" y="1146.5" width="16.9" height="16.9"/>
<rect x="587.6" y="1139.0" width="16.9" height="16.9"/>
<rect x="615.4" y="1174.5" width="16.9" height="16.9"/>
<rect x="642.9" y="1148.1" width="16.9" height="16.9"/>
<rect x="670.6" y="1194.5" width="16.9" height="16.9"/>
<rect x="725.9" y="1163.6" width="16.9" height="16.9"/>
<rect x="820.4" y="1191.1" width="16.9" height="16.9"/>
<rect x="847.9" y="1153.5" width="16.9" height="16.9"/>
<rect x="875.9" y="1168.1" width="16.9" height="16.9"/>
<rect x="903.4" y="1193.5" width="16.9" height="16.9"/>
<rect x="931.1" y="1191.1" width="16.9" height="16.9"/>
<rect x="959.1" y="1180.0" width="16.9" height="16.9"/>
<rect x="986.4" y="1207.5" width="16.9" height="16.9"/>
<rect x="1013.9" y="1195.6" width="16.9" height="16.9"/>
<rect x="1041.8" y="1173.1" width="16.9" height="16.9"/>
<rect x="1070.0" y="1198.6" width="16.9" height="16.9"/>
<rect x="1097.0" y="1183.5" width="16.9" height="16.9"/>
<rect x="1208.0" y="1165.0" width="16.9" height="16.9"/>
</g>
<g stroke="#cd1820">
<rect x="154.7" y="1177.1" width="16.9" height="16.9"/>
<rect x="182.2" y="1211.5" width="16.9" height="16.9"/>
<rect x="210.0" y="1188.6" width="16.9" height="16.9"/>
<rect x="237.7" y="1180.6" width="16.9" height="16.9"/>
<rect x="265.2" y="1175.1" width="16.9" height="16.9"/>
<rect x="292.7" y="1160.5" width="16.9" height="16.9"/>
<rect x="320.4" y="1182.0" width="16.9" height="16.9"/>
<rect x="348.2" y="1175.6" width="16.9" height="16.9"/>
<rect x="375.9" y="1163.5" width="16.9" height="16.9"/>
<rect x="403.4" y="1178.5" width="16.9" height="16.9"/>
<rect x="431.2" y="1187.5" width="16.9" height="16.9"/>
<rect x="458.7" y="1165.1" width="16.9" height="16.9"/>
<rect x="486.7" y="1175.6" width="16.9" height="16.9"/>
<rect x="600.4" y="1202.5" width="16.9" height="16.9"/>
<rect x="627.9" y="1202.5" width="16.9" height="16.9"/>
<rect x="655.9" y="1173.6" width="16.9" height="16.9"/>
<rect x="683.4" y="1203.1" width="16.9" height="16.9"/>
<rect x="711.1" y="1197.0" width="16.9" height="16.9"/>
<rect x="738.4" y="1148.1" width="16.9" height="16.9"/>
<rect x="793.9" y="1156.1" width="16.9" height="16.9"/>
<rect x="821.4" y="1172.6" width="16.9" height="16.9"/>
<rect x="849.1" y="1173.1" width="16.9" height="16.9"/>
<rect x="876.6" y="1154.0" width="16.9" height="16.9"/>
<rect x="912.6" y="1190.5" width="16.9" height="16.9"/>
<rect x="940.1" y="1179.5" width="16.9" height="16.9"/>
<rect x="967.9" y="1180.0" width="16.9" height="16.9"/>
<rect x="995.6" y="1168.1" width="16.9" height="16.9"/>
<rect x="1023.5" y="1162.5" width="16.9" height="16.9"/>
<rect x="1051.2" y="1177.1" width="16.9" height="16.9"/>
<rect x="1078.8" y="1211.5" width="16.9" height="16.9"/>
<rect x="1106.5" y="1188.6" width="16.9" height="16.9"/>
<rect x="1134.2" y="1180.6" width="16.9" height="16.9"/>
<rect x="1161.8" y="1175.1" width="16.9" height="16.9"/>
<rect x="1189.2" y="1160.5" width="16.9" height="16.9"/>
<rect x="1217.0" y="1182.0" width="16.9" height="16.9"/>
</g>
<g stroke="#4aa73b">
<rect x="165.2" y="1178.6" width="16.9" height="16.9"/>
<rect x="193.0" y="1183.1" width="16.9" height="16.9"/>
<rect x="220.5" y="1178.6" width="16.9" height="16.9"/>
<rect x="275.4" y="1163.6" width="16.9" height="16.9"/>
<rect x="370.9" y="1213.6" width="16.9" height="16.9"/>
<rect x="426.4" y="1188.1" width="16.9" height="16.9"/>
<rect x="454.2" y="1169.1" width="16.9" height="16.9"/>
<rect x="481.7" y="1167.1" width="16.9" height="16.9"/>
<rect x="509.2" y="1168.1" width="16.9" height="16.9"/>
<rect x="536.6" y="1185.6" width="16.9" height="16.9"/>
<rect x="564.4" y="1164.0" width="16.9" height="16.9"/>
<rect x="592.1" y="1172.0" width="16.9" height="16.9"/>
<rect x="619.6" y="1184.6" width="16.9" height="16.9"/>
<rect x="647.6" y="1169.0" width="16.9" height="16.9"/>
<rect x="675.1" y="1182.6" width="16.9" height="16.9"/>
<rect x="711.6" y="1187.5" width="16.9" height="16.9"/>
<rect x="739.6" y="1155.1" width="16.9" height="16.9"/>
<rect x="776.4" y="1167.5" width="16.9" height="16.9"/>
<rect x="803.9" y="1180.6" width="16.9" height="16.9"/>
<rect x="840.4" y="1176.1" width="16.9" height="16.9"/>
<rect x="895.4" y="1197.0" width="16.9" height="16.9"/>
<rect x="923.4" y="1180.6" width="16.9" height="16.9"/>
<rect x="950.9" y="1189.0" width="16.9" height="16.9"/>
<rect x="978.4" y="1177.1" width="16.9" height="16.9"/>
<rect x="1006.4" y="1179.0" width="16.9" height="16.9"/>
<rect x="1034.0" y="1173.5" width="16.9" height="16.9"/>
<rect x="1061.8" y="1178.6" width="16.9" height="16.9"/>
<rect x="1089.5" y="1183.1" width="16.9" height="16.9"/>
<rect x="1117.0" y="1178.6" width="16.9" height="16.9"/>
<rect x="1172.0" y="1163.6" width="16.9" height="16.9"/>
</g>
<g stroke="#4e4dac">
<rect x="147.2" y="1212.6" width="16.9" height="16.9"/>
<rect x="174.7" y="1197.0" width="16.9" height="16.9"/>
<rect x="202.2" y="1198.6" width="16.9" height="16.9"/>
<rect x="230.2" y="1163.1" width="16.9" height="16.9"/>
<rect x="257.7" y="1165.5" width="16.9" height="16.9"/>
<rect x="285.4" y="1163.0" width="16.9" height="16.9"/>
<rect x="466.4" y="1158.6" width="16.9" height="16.9"/>
<rect x="493.9" y="1172.6" width="16.9" height="16.9"/>
<rect x="530.4" y="1172.5" width="16.9" height="16.9"/>
<rect x="558.4" y="1189.5" width="16.9" height="16.9"/>
<rect x="595.1" y="1179.1" width="16.9" height="16.9"/>
<rect x="622.4" y="1187.0" width="16.9" height="16.9"/>
<rect x="659.4" y="1175.6" width="16.9" height="16.9"/>
<rect x="686.6" y="1201.1" width="16.9" height="16.9"/>
<rect x="714.9" y="1164.5" width="16.9" height="16.9"/>
<rect x="825.4" y="1187.6" width="16.9" height="16.9"/>
<rect x="852.6" y="1153.1" width="16.9" height="16.9"/>
<rect x="880.4" y="1150.5" width="16.9" height="16.9"/>
<rect x="908.4" y="1212.1" width="16.9" height="16.9"/>
<rect x="935.9" y="1157.6" width="16.9" height="16.9"/>
<rect x="1043.8" y="1212.6" width="16.9" height="16.9"/>
<rect x="1071.2" y="1197.0" width="16.9" height="16.9"/>
<rect x="1098.8" y="1198.6" width="16.9" height="16.9"/>
<rect x="1126.8" y="1163.1" width="16.9" height="16.9"/>
<rect x="1154.2" y="1165.5" width="16.9" height="16.9"/>
<rect x="1182.0" y="1163.0" width="16.9" height="16.9"/>
</g>
</g>
</g>
<g stroke="#000" fill="none">
<line x1="200.32" y1="12.85" x2="200.32" y2="20.05" stroke-width="1.45"/>
<line x1="200.32" y1="730.15" x2="200.32" y2="722.95" stroke-width="1.45"/>
<line x1="200.32" y1="909.40" x2="200.32" y2="902.20" stroke-width="1.45"/>
<line x1="200.32" y1="1088.65" x2="200.32" y2="1081.45" stroke-width="1.45"/>
<line x1="200.32" y1="1267.90" x2="200.32" y2="1260.70" stroke-width="1.45"/>
<line x1="245.15" y1="12.85" x2="245.15" y2="20.05" stroke-width="1.45"/>
<line x1="245.15" y1="730.15" x2="245.15" y2="722.95" stroke-width="1.45"/>
<line x1="245.15" y1="909.40" x2="245.15" y2="902.20" stroke-width="1.45"/>
<line x1="245.15" y1="1088.65" x2="245.15" y2="1081.45" stroke-width="1.45"/>
<line x1="245.15" y1="1267.90" x2="245.15" y2="1260.70" stroke-width="1.45"/>
<line x1="289.98" y1="12.85" x2="289.98" y2="20.05" stroke-width="1.45"/>
<line x1="289.98" y1="730.15" x2="289.98" y2="722.95" stroke-width="1.45"/>
<line x1="289.98" y1="909.40" x2="289.98" y2="902.20" stroke-width="1.45"/>
<line x1="289.98" y1="1088.65" x2="289.98" y2="1081.45" stroke-width="1.45"/>
<line x1="289.98" y1="1267.90" x2="289.98" y2="1260.70" stroke-width="1.45"/>
<line x1="334.80" y1="12.85" x2="334.80" y2="24.85" stroke-width="2.7"/>
<line x1="334.80" y1="730.15" x2="334.80" y2="718.15" stroke-width="2.7"/>
<line x1="334.80" y1="909.40" x2="334.80" y2="897.40" stroke-width="2.7"/>
<line x1="334.80" y1="1088.65" x2="334.80" y2="1076.65" stroke-width="2.7"/>
<line x1="334.80" y1="1267.90" x2="334.80" y2="1255.90" stroke-width="2.7"/>
<line x1="379.62" y1="12.85" x2="379.62" y2="20.05" stroke-width="1.45"/>
<line x1="379.62" y1="730.15" x2="379.62" y2="722.95" stroke-width="1.45"/>
<line x1="379.62" y1="909.40" x2="379.62" y2="902.20" stroke-width="1.45"/>
<line x1="379.62" y1="1088.65" x2="379.62" y2="1081.45" stroke-width="1.45"/>
<line x1="379.62" y1="1267.90" x2="379.62" y2="1260.70" stroke-width="1.45"/>
<line x1="424.45" y1="12.85" x2="424.45" y2="20.05" stroke-width="1.45"/>
<line x1="424.45" y1="730.15" x2="424.45" y2="722.95" stroke-width="1.45"/>
<line x1="424.45" y1="909.40" x2="424.45" y2="902.20" stroke-width="1.45"/>
<line x1="424.45" y1="1088.65" x2="424.45" y2="1081.45" stroke-width="1.45"/>
<line x1="424.45" y1="1267.90" x2="424.45" y2="1260.70" stroke-width="1.45"/>
<line x1="469.28" y1="12.85" x2="469.28" y2="20.05" stroke-width="1.45"/>
<line x1="469.28" y1="730.15" x2="469.28" y2="722.95" stroke-width="1.45"/>
<line x1="469.28" y1="909.40" x2="469.28" y2="902.20" stroke-width="1.45"/>
<line x1="469.28" y1="1088.65" x2="469.28" y2="1081.45" stroke-width="1.45"/>
<line x1="469.28" y1="1267.90" x2="469.28" y2="1260.70" stroke-width="1.45"/>
<line x1="514.10" y1="12.85" x2="514.10" y2="24.85" stroke-width="2.7"/>
<line x1="514.10" y1="730.15" x2="514.10" y2="718.15" stroke-width="2.7"/>
<line x1="514.10" y1="909.40" x2="514.10" y2="897.40" stroke-width="2.7"/>
<line x1="514.10" y1="1088.65" x2="514.10" y2="1076.65" stroke-width="2.7"/>
<line x1="514.10" y1="1267.90" x2="514.10" y2="1255.90" stroke-width="2.7"/>
<line x1="558.92" y1="12.85" x2="558.92" y2="20.05" stroke-width="1.45"/>
<line x1="558.92" y1="730.15" x2="558.92" y2="722.95" stroke-width="1.45"/>
<line x1="558.92" y1="909.40" x2="558.92" y2="902.20" stroke-width="1.45"/>
<line x1="558.92" y1="1088.65" x2="558.92" y2="1081.45" stroke-width="1.45"/>
<line x1="558.92" y1="1267.90" x2="558.92" y2="1260.70" stroke-width="1.45"/>
<line x1="603.75" y1="12.85" x2="603.75" y2="20.05" stroke-width="1.45"/>
<line x1="603.75" y1="730.15" x2="603.75" y2="722.95" stroke-width="1.45"/>
<line x1="603.75" y1="909.40" x2="603.75" y2="902.20" stroke-width="1.45"/>
<line x1="603.75" y1="1088.65" x2="603.75" y2="1081.45" stroke-width="1.45"/>
<line x1="603.75" y1="1267.90" x2="603.75" y2="1260.70" stroke-width="1.45"/>
<line x1="648.58" y1="12.85" x2="648.58" y2="20.05" stroke-width="1.45"/>
<line x1="648.58" y1="730.15" x2="648.58" y2="722.95" stroke-width="1.45"/>
<line x1="648.58" y1="909.40" x2="648.58" y2="902.20" stroke-width="1.45"/>
<line x1="648.58" y1="1088.65" x2="648.58" y2="1081.45" stroke-width="1.45"/>
<line x1="648.58" y1="1267.90" x2="648.58" y2="1260.70" stroke-width="1.45"/>
<line x1="693.40" y1="12.85" x2="693.40" y2="24.85" stroke-width="2.7"/>
<line x1="693.40" y1="730.15" x2="693.40" y2="718.15" stroke-width="2.7"/>
<line x1="693.40" y1="909.40" x2="693.40" y2="897.40" stroke-width="2.7"/>
<line x1="693.40" y1="1088.65" x2="693.40" y2="1076.65" stroke-width="2.7"/>
<line x1="693.40" y1="1267.90" x2="693.40" y2="1255.90" stroke-width="2.7"/>
<line x1="738.23" y1="12.85" x2="738.23" y2="20.05" stroke-width="1.45"/>
<line x1="738.23" y1="730.15" x2="738.23" y2="722.95" stroke-width="1.45"/>
<line x1="738.23" y1="909.40" x2="738.23" y2="902.20" stroke-width="1.45"/>
<line x1="738.23" y1="1088.65" x2="738.23" y2="1081.45" stroke-width="1.45"/>
<line x1="738.23" y1="1267.90" x2="738.23" y2="1260.70" stroke-width="1.45"/>
<line x1="783.05" y1="12.85" x2="783.05" y2="20.05" stroke-width="1.45"/>
<line x1="783.05" y1="730.15" x2="783.05" y2="722.95" stroke-width="1.45"/>
<line x1="783.05" y1="909.40" x2="783.05" y2="902.20" stroke-width="1.45"/>
<line x1="783.05" y1="1088.65" x2="783.05" y2="1081.45" stroke-width="1.45"/>
<line x1="783.05" y1="1267.90" x2="783.05" y2="1260.70" stroke-width="1.45"/>
<line x1="827.88" y1="12.85" x2="827.88" y2="20.05" stroke-width="1.45"/>
<line x1="827.88" y1="730.15" x2="827.88" y2="722.95" stroke-width="1.45"/>
<line x1="827.88" y1="909.40" x2="827.88" y2="902.20" stroke-width="1.45"/>
<line x1="827.88" y1="1088.65" x2="827.88" y2="1081.45" stroke-width="1.45"/>
<line x1="827.88" y1="1267.90" x2="827.88" y2="1260.70" stroke-width="1.45"/>
<line x1="872.70" y1="12.85" x2="872.70" y2="24.85" stroke-width="2.7"/>
<line x1="872.70" y1="730.15" x2="872.70" y2="718.15" stroke-width="2.7"/>
<line x1="872.70" y1="909.40" x2="872.70" y2="897.40" stroke-width="2.7"/>
<line x1="872.70" y1="1088.65" x2="872.70" y2="1076.65" stroke-width="2.7"/>
<line x1="872.70" y1="1267.90" x2="872.70" y2="1255.90" stroke-width="2.7"/>
<line x1="917.53" y1="12.85" x2="917.53" y2="20.05" stroke-width="1.45"/>
<line x1="917.53" y1="730.15" x2="917.53" y2="722.95" stroke-width="1.45"/>
<line x1="917.53" y1="909.40" x2="917.53" y2="902.20" stroke-width="1.45"/>
<line x1="917.53" y1="1088.65" x2="917.53" y2="1081.45" stroke-width="1.45"/>
<line x1="917.53" y1="1267.90" x2="917.53" y2="1260.70" stroke-width="1.45"/>
<line x1="962.35" y1="12.85" x2="962.35" y2="20.05" stroke-width="1.45"/>
<line x1="962.35" y1="730.15" x2="962.35" y2="722.95" stroke-width="1.45"/>
<line x1="962.35" y1="909.40" x2="962.35" y2="902.20" stroke-width="1.45"/>
<line x1="962.35" y1="1088.65" x2="962.35" y2="1081.45" stroke-width="1.45"/>
<line x1="962.35" y1="1267.90" x2="962.35" y2="1260.70" stroke-width="1.45"/>
<line x1="1007.18" y1="12.85" x2="1007.18" y2="20.05" stroke-width="1.45"/>
<line x1="1007.18" y1="730.15" x2="1007.18" y2="722.95" stroke-width="1.45"/>
<line x1="1007.18" y1="909.40" x2="1007.18" y2="902.20" stroke-width="1.45"/>
<line x1="1007.18" y1="1088.65" x2="1007.18" y2="1081.45" stroke-width="1.45"/>
<line x1="1007.18" y1="1267.90" x2="1007.18" y2="1260.70" stroke-width="1.45"/>
<line x1="1052.00" y1="12.85" x2="1052.00" y2="24.85" stroke-width="2.7"/>
<line x1="1052.00" y1="730.15" x2="1052.00" y2="718.15" stroke-width="2.7"/>
<line x1="1052.00" y1="909.40" x2="1052.00" y2="897.40" stroke-width="2.7"/>
<line x1="1052.00" y1="1088.65" x2="1052.00" y2="1076.65" stroke-width="2.7"/>
<line x1="1052.00" y1="1267.90" x2="1052.00" y2="1255.90" stroke-width="2.7"/>
<line x1="1096.82" y1="12.85" x2="1096.82" y2="20.05" stroke-width="1.45"/>
<line x1="1096.82" y1="730.15" x2="1096.82" y2="722.95" stroke-width="1.45"/>
<line x1="1096.82" y1="909.40" x2="1096.82" y2="902.20" stroke-width="1.45"/>
<line x1="1096.82" y1="1088.65" x2="1096.82" y2="1081.45" stroke-width="1.45"/>
<line x1="1096.82" y1="1267.90" x2="1096.82" y2="1260.70" stroke-width="1.45"/>
<line x1="1141.65" y1="12.85" x2="1141.65" y2="20.05" stroke-width="1.45"/>
<line x1="1141.65" y1="730.15" x2="1141.65" y2="722.95" stroke-width="1.45"/>
<line x1="1141.65" y1="909.40" x2="1141.65" y2="902.20" stroke-width="1.45"/>
<line x1="1141.65" y1="1088.65" x2="1141.65" y2="1081.45" stroke-width="1.45"/>
<line x1="1141.65" y1="1267.90" x2="1141.65" y2="1260.70" stroke-width="1.45"/>
<line x1="1186.48" y1="12.85" x2="1186.48" y2="20.05" stroke-width="1.45"/>
<line x1="1186.48" y1="730.15" x2="1186.48" y2="722.95" stroke-width="1.45"/>
<line x1="1186.48" y1="909.40" x2="1186.48" y2="902.20" stroke-width="1.45"/>
<line x1="1186.48" y1="1088.65" x2="1186.48" y2="1081.45" stroke-width="1.45"/>
<line x1="1186.48" y1="1267.90" x2="1186.48" y2="1260.70" stroke-width="1.45"/>
<line x1="155.50" y1="48.71" x2="162.70" y2="48.71" stroke-width="1.45"/>
<line x1="1231.30" y1="48.71" x2="1224.10" y2="48.71" stroke-width="1.45"/>
<line x1="155.50" y1="84.58" x2="162.70" y2="84.58" stroke-width="1.45"/>
<line x1="1231.30" y1="84.58" x2="1224.10" y2="84.58" stroke-width="1.45"/>
<line x1="155.50" y1="120.44" x2="162.70" y2="120.44" stroke-width="1.45"/>
<line x1="1231.30" y1="120.44" x2="1224.10" y2="120.44" stroke-width="1.45"/>
<line x1="155.50" y1="156.31" x2="162.70" y2="156.31" stroke-width="1.45"/>
<line x1="1231.30" y1="156.31" x2="1224.10" y2="156.31" stroke-width="1.45"/>
<line x1="155.50" y1="192.17" x2="167.50" y2="192.17" stroke-width="2.7"/>
<line x1="1231.30" y1="192.17" x2="1219.30" y2="192.17" stroke-width="2.7"/>
<line x1="155.50" y1="228.04" x2="162.70" y2="228.04" stroke-width="1.45"/>
<line x1="1231.30" y1="228.04" x2="1224.10" y2="228.04" stroke-width="1.45"/>
<line x1="155.50" y1="263.90" x2="162.70" y2="263.90" stroke-width="1.45"/>
<line x1="1231.30" y1="263.90" x2="1224.10" y2="263.90" stroke-width="1.45"/>
<line x1="155.50" y1="299.77" x2="162.70" y2="299.77" stroke-width="1.45"/>
<line x1="1231.30" y1="299.77" x2="1224.10" y2="299.77" stroke-width="1.45"/>
<line x1="155.50" y1="335.63" x2="162.70" y2="335.63" stroke-width="1.45"/>
<line x1="1231.30" y1="335.63" x2="1224.10" y2="335.63" stroke-width="1.45"/>
<line x1="155.50" y1="371.50" x2="167.50" y2="371.50" stroke-width="2.7"/>
<line x1="1231.30" y1="371.50" x2="1219.30" y2="371.50" stroke-width="2.7"/>
<line x1="155.50" y1="407.37" x2="162.70" y2="407.37" stroke-width="1.45"/>
<line x1="1231.30" y1="407.37" x2="1224.10" y2="407.37" stroke-width="1.45"/>
<line x1="155.50" y1="443.23" x2="162.70" y2="443.23" stroke-width="1.45"/>
<line x1="1231.30" y1="443.23" x2="1224.10" y2="443.23" stroke-width="1.45"/>
<line x1="155.50" y1="479.10" x2="162.70" y2="479.10" stroke-width="1.45"/>
<line x1="1231.30" y1="479.10" x2="1224.10" y2="479.10" stroke-width="1.45"/>
<line x1="155.50" y1="514.96" x2="162.70" y2="514.96" stroke-width="1.45"/>
<line x1="1231.30" y1="514.96" x2="1224.10" y2="514.96" stroke-width="1.45"/>
<line x1="155.50" y1="550.83" x2="167.50" y2="550.83" stroke-width="2.7"/>
<line x1="1231.30" y1="550.83" x2="1219.30" y2="550.83" stroke-width="2.7"/>
<line x1="155.50" y1="586.69" x2="162.70" y2="586.69" stroke-width="1.45"/>
<line x1="1231.30" y1="586.69" x2="1224.10" y2="586.69" stroke-width="1.45"/>
<line x1="155.50" y1="622.55" x2="162.70" y2="622.55" stroke-width="1.45"/>
<line x1="1231.30" y1="622.55" x2="1224.10" y2="622.55" stroke-width="1.45"/>
<line x1="155.50" y1="658.42" x2="162.70" y2="658.42" stroke-width="1.45"/>
<line x1="1231.30" y1="658.42" x2="1224.10" y2="658.42" stroke-width="1.45"/>
<line x1="155.50" y1="694.28" x2="162.70" y2="694.28" stroke-width="1.45"/>
<line x1="1231.30" y1="694.28" x2="1224.10" y2="694.28" stroke-width="1.45"/>
<line x1="155.50" y1="748.07" x2="162.70" y2="748.07" stroke-width="1.45"/>
<line x1="1231.30" y1="748.07" x2="1224.10" y2="748.07" stroke-width="1.45"/>
<line x1="155.50" y1="766.00" x2="162.70" y2="766.00" stroke-width="1.45"/>
<line x1="1231.30" y1="766.00" x2="1224.10" y2="766.00" stroke-width="1.45"/>
<line x1="155.50" y1="783.92" x2="162.70" y2="783.92" stroke-width="1.45"/>
<line x1="1231.30" y1="783.92" x2="1224.10" y2="783.92" stroke-width="1.45"/>
<line x1="155.50" y1="801.85" x2="162.70" y2="801.85" stroke-width="1.45"/>
<line x1="1231.30" y1="801.85" x2="1224.10" y2="801.85" stroke-width="1.45"/>
<line x1="155.50" y1="819.77" x2="167.50" y2="819.77" stroke-width="2.7"/>
<line x1="1231.30" y1="819.77" x2="1219.30" y2="819.77" stroke-width="2.7"/>
<line x1="155.50" y1="837.70" x2="162.70" y2="837.70" stroke-width="1.45"/>
<line x1="1231.30" y1="837.70" x2="1224.10" y2="837.70" stroke-width="1.45"/>
<line x1="155.50" y1="855.62" x2="162.70" y2="855.62" stroke-width="1.45"/>
<line x1="1231.30" y1="855.62" x2="1224.10" y2="855.62" stroke-width="1.45"/>
<line x1="155.50" y1="873.55" x2="162.70" y2="873.55" stroke-width="1.45"/>
<line x1="1231.30" y1="873.55" x2="1224.10" y2="873.55" stroke-width="1.45"/>
<line x1="155.50" y1="891.47" x2="162.70" y2="891.47" stroke-width="1.45"/>
<line x1="1231.30" y1="891.47" x2="1224.10" y2="891.47" stroke-width="1.45"/>
<line x1="155.50" y1="927.33" x2="162.70" y2="927.33" stroke-width="1.45"/>
<line x1="1231.30" y1="927.33" x2="1224.10" y2="927.33" stroke-width="1.45"/>
<line x1="155.50" y1="945.25" x2="162.70" y2="945.25" stroke-width="1.45"/>
<line x1="1231.30" y1="945.25" x2="1224.10" y2="945.25" stroke-width="1.45"/>
<line x1="155.50" y1="963.17" x2="162.70" y2="963.17" stroke-width="1.45"/>
<line x1="1231.30" y1="963.17" x2="1224.10" y2="963.17" stroke-width="1.45"/>
<line x1="155.50" y1="981.10" x2="162.70" y2="981.10" stroke-width="1.45"/>
<line x1="1231.30" y1="981.10" x2="1224.10" y2="981.10" stroke-width="1.45"/>
<line x1="155.50" y1="999.03" x2="167.50" y2="999.03" stroke-width="2.7"/>
<line x1="1231.30" y1="999.03" x2="1219.30" y2="999.03" stroke-width="2.7"/>
<line x1="155.50" y1="1016.95" x2="162.70" y2="1016.95" stroke-width="1.45"/>
<line x1="1231.30" y1="1016.95" x2="1224.10" y2="1016.95" stroke-width="1.45"/>
<line x1="155.50" y1="1034.88" x2="162.70" y2="1034.88" stroke-width="1.45"/>
<line x1="1231.30" y1="1034.88" x2="1224.10" y2="1034.88" stroke-width="1.45"/>
<line x1="155.50" y1="1052.80" x2="162.70" y2="1052.80" stroke-width="1.45"/>
<line x1="1231.30" y1="1052.80" x2="1224.10" y2="1052.80" stroke-width="1.45"/>
<line x1="155.50" y1="1070.73" x2="162.70" y2="1070.73" stroke-width="1.45"/>
<line x1="1231.30" y1="1070.73" x2="1224.10" y2="1070.73" stroke-width="1.45"/>
<line x1="155.50" y1="1106.58" x2="162.70" y2="1106.58" stroke-width="1.45"/>
<line x1="1231.30" y1="1106.58" x2="1224.10" y2="1106.58" stroke-width="1.45"/>
<line x1="155.50" y1="1124.50" x2="162.70" y2="1124.50" stroke-width="1.45"/>
<line x1="1231.30" y1="1124.50" x2="1224.10" y2="1124.50" stroke-width="1.45"/>
<line x1="155.50" y1="1142.43" x2="162.70" y2="1142.43" stroke-width="1.45"/>
<line x1="1231.30" y1="1142.43" x2="1224.10" y2="1142.43" stroke-width="1.45"/>
<line x1="155.50" y1="1160.35" x2="162.70" y2="1160.35" stroke-width="1.45"/>
<line x1="1231.30" y1="1160.35" x2="1224.10" y2="1160.35" stroke-width="1.45"/>
<line x1="155.50" y1="1178.28" x2="167.50" y2="1178.28" stroke-width="2.7"/>
<line x1="1231.30" y1="1178.28" x2="1219.30" y2="1178.28" stroke-width="2.7"/>
<line x1="155.50" y1="1196.20" x2="162.70" y2="1196.20" stroke-width="1.45"/>
<line x1="1231.30" y1="1196.20" x2="1224.10" y2="1196.20" stroke-width="1.45"/>
<line x1="155.50" y1="1214.12" x2="162.70" y2="1214.12" stroke-width="1.45"/>
<line x1="1231.30" y1="1214.12" x2="1224.10" y2="1214.12" stroke-width="1.45"/>
<line x1="155.50" y1="1232.05" x2="162.70" y2="1232.05" stroke-width="1.45"/>
<line x1="1231.30" y1="1232.05" x2="1224.10" y2="1232.05" stroke-width="1.45"/>
<line x1="155.50" y1="1249.98" x2="162.70" y2="1249.98" stroke-width="1.45"/>
<line x1="1231.30" y1="1249.98" x2="1224.10" y2="1249.98" stroke-width="1.45"/>
</g>
<g stroke="#000" fill="none">
<line x1="155.5" y1="11.75" x2="155.5" y2="1269.00" stroke-width="2.9"/>
<line x1="1231.3" y1="11.75" x2="1231.3" y2="1269.00" stroke-width="2.9"/>
<line x1="155.5" y1="12.85" x2="1231.3" y2="12.85" stroke-width="2.3"/>
<line x1="155.5" y1="1267.9" x2="1231.3" y2="1267.9" stroke-width="2.3"/>
<line x1="155.5" y1="730.15" x2="1231.3" y2="730.15" stroke-width="2.7"/>
<line x1="155.5" y1="909.4" x2="1231.3" y2="909.4" stroke-width="2.7"/>
<line x1="155.5" y1="1088.65" x2="1231.3" y2="1088.65" stroke-width="2.7"/>
</g>
<text x="120.5" y="24.95" font-size="35" text-anchor="end">9.4</text>
<text x="120.5" y="204.27" font-size="35" text-anchor="end">9.5</text>
<text x="120.5" y="383.60" font-size="35" text-anchor="end">9.6</text>
<text x="120.5" y="562.92" font-size="35" text-anchor="end">9.7</text>
<text x="120.5" y="742.25" font-size="35" text-anchor="end">9.8</text>
<text x="120.5" y="921.30" font-size="35" text-anchor="end">1.05</text>
<text x="120.5" y="1011.33" font-size="35" text-anchor="end">1.10</text>
<text x="120.5" y="1100.75" font-size="35" text-anchor="end">1.15</text>
<text x="1334.4" y="742.05" font-size="35" text-anchor="end">−0.05</text>
<text x="1334.0" y="831.48" font-size="35" text-anchor="end">0.00</text>
<text x="1334.0" y="920.70" font-size="35" text-anchor="end">0.05</text>
<text x="1334.0" y="1100.75" font-size="35" text-anchor="end">0.30</text>
<text x="1334.0" y="1190.78" font-size="35" text-anchor="end">0.35</text>
<text x="1334.0" y="1279.80" font-size="35" text-anchor="end">0.40</text>
<text x="155.50" y="1338" font-size="35" text-anchor="middle">0</text>
<text x="334.80" y="1338" font-size="35" text-anchor="middle">0.2</text>
<text x="514.10" y="1338" font-size="35" text-anchor="middle">0.4</text>
<text x="693.40" y="1338" font-size="35" text-anchor="middle">0.6</text>
<text x="872.70" y="1338" font-size="35" text-anchor="middle">0.8</text>
<text x="1052.00" y="1338" font-size="35" text-anchor="middle">1</text>
<text x="1231.30" y="1338" font-size="35" text-anchor="middle">1.2</text>
<text x="693.9" y="1394" font-size="35" text-anchor="middle">Rotational Phase</text>
<text x="694" y="114.3" font-size="46" text-anchor="middle" textLength="313" lengthAdjust="spacingAndGlyphs">3548 Eurybates</text>
<text transform="translate(36.7,495.5) rotate(-90)" font-size="35"><tspan x="-2.4" textLength="62.9" lengthAdjust="spacingAndGlyphs">R(1,</tspan> <tspan x="73.1" textLength="25.1" lengthAdjust="spacingAndGlyphs">α</tspan> <tspan x="109.3" textLength="140.4" lengthAdjust="spacingAndGlyphs">= 0.865°)</tspan></text>
<text transform="translate(25.0,998.1) rotate(-90)" font-size="35" text-anchor="middle">B–R</text>
<text transform="translate(1390.9,820.8) rotate(-90)" font-size="35" text-anchor="middle">res Rmag</text>
<text transform="translate(1379.7,1178.6) rotate(-90)" font-size="35" text-anchor="middle">R–I</text>
<rect x="302.20" y="546.60" width="17.2" height="17.2" fill="none" stroke="#000000" stroke-width="2.55"/>
<rect x="302.20" y="605.30" width="17.2" height="17.2" fill="none" stroke="#cd1820" stroke-width="2.55"/>
<rect x="302.20" y="663.80" width="17.2" height="17.2" fill="none" stroke="#4aa73b" stroke-width="2.55"/>
<rect x="750.60" y="546.60" width="17.2" height="17.2" fill="none" stroke="#4e4dac" stroke-width="2.55"/>
<text x="345.3" y="567.8" font-size="35" textLength="220" lengthAdjust="spacingAndGlyphs">2020 Oct 11.9</text>
<text x="345.3" y="626.4" font-size="35" textLength="220" lengthAdjust="spacingAndGlyphs">2020 Oct 12.9</text>
<text x="345.3" y="685.0" font-size="35" textLength="220" lengthAdjust="spacingAndGlyphs">2020 Oct 13.9</text>
<text x="794" y="567.8" font-size="35" textLength="220" lengthAdjust="spacingAndGlyphs">2020 Oct 14.9</text>
<text x="749" y="626.4" font-size="35">P<tspan font-size="25" dy="5">syn</tspan><tspan dy="-5"> = 8.7022 h</tspan></text>
<text x="750.5" y="684.6" font-size="35">T<tspan font-size="25" dy="5">0</tspan><tspan dy="-5" dx="-1.5"> = 59135.0 MJD</tspan><tspan font-size="23" dy="5" dx="2.5">TDB</tspan></text>
</svg></body></html>
